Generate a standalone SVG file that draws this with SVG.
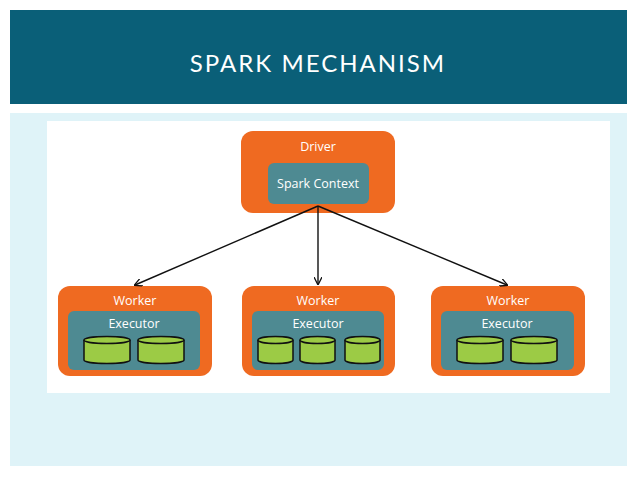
<svg xmlns="http://www.w3.org/2000/svg" width="638" height="478" viewBox="0 0 638 478">
<style>
.o{fill:#ef6a21}.t{fill:#4e8a92}.w{fill:#fff;font-family:"Open Sans","Liberation Sans",sans-serif;font-size:12.5px;text-anchor:middle}
.c{fill:#9ccb45;stroke:#111;stroke-width:1.5}
.e{stroke:#111;stroke-width:1.4;fill:none}
</style>
<defs><marker id="a" markerWidth="8" markerHeight="8" refX="7" refY="4" orient="auto" markerUnits="userSpaceOnUse"><path d="M0,0 L8,4 L0,8" fill="none" stroke="#111" stroke-width="1.3"/></marker>
<g id="cyl"><path class="c" d="M0,4 V24 A23,3.5 0 0 0 46,24 V4"/><ellipse class="c" cx="23" cy="4" rx="23" ry="3.5" fill="#c6e38e"/></g>
<g id="cyls"><path class="c" d="M0,4 V24 A17.5,3.5 0 0 0 35,24 V4"/><ellipse class="c" cx="17.5" cy="4" rx="17.5" ry="3.5"/></g></defs>
<rect width="638" height="478" fill="#fff"/>
<rect x="10" y="10" width="617" height="94" fill="#0a5f78"/>
<text x="318" y="72" fill="#fff" font-family="Lato,'Liberation Sans',sans-serif" font-size="24" letter-spacing="2" text-anchor="middle">SPARK MECHANISM</text>
<rect x="10" y="113" width="617" height="353" fill="#dff3f8"/>
<rect x="47" y="121" width="563" height="272" fill="#fff"/>
<g id="driver"><rect class="o" x="241" y="131" width="154" height="82" rx="12"/><text class="w" x="318" y="151">Driver</text>
<rect class="t" x="268" y="163" width="101" height="41" rx="6"/><text class="w" x="318" y="188">Spark Context</text></g>
<g id="w1"><rect class="o" x="58" y="286" width="154" height="90" rx="12"/><text class="w" x="135" y="305">Worker</text>
<rect class="t" x="68" y="311" width="132" height="59" rx="6"/><text class="w" x="134" y="328">Executor</text>
<use href="#cyl" x="84" y="336"/><use href="#cyl" x="138" y="336"/></g>
<g id="w2"><rect class="o" x="242" y="286" width="153" height="90" rx="12"/><text class="w" x="318" y="305">Worker</text>
<rect class="t" x="252" y="311" width="132" height="59" rx="6"/><text class="w" x="318" y="328">Executor</text>
<use href="#cyls" x="258" y="336"/><use href="#cyls" x="300" y="336"/><use href="#cyls" x="345" y="336"/></g>
<g id="w3"><rect class="o" x="431" y="286" width="154" height="90" rx="12"/><text class="w" x="508" y="305">Worker</text>
<rect class="t" x="441" y="311" width="133" height="59" rx="6"/><text class="w" x="507" y="328">Executor</text>
<use href="#cyl" x="457" y="336"/><use href="#cyl" x="511" y="336"/></g>
<g id="connectors"><path class="e" d="M318,206 L135,285" marker-end="url(#a)"/><path class="e" d="M318,206 L318,284" marker-end="url(#a)"/><path class="e" d="M318,206 L507,285" marker-end="url(#a)"/></g>
</svg>
